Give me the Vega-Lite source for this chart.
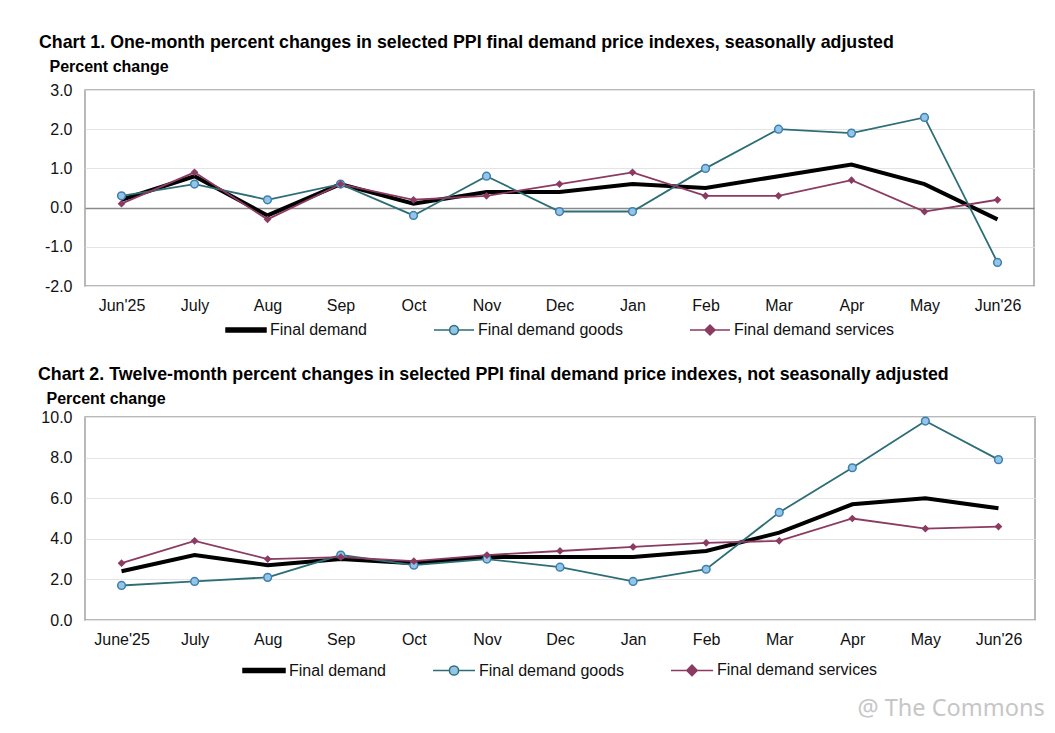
{
  "$schema": "https://vega.github.io/schema/vega-lite/v6.json",
  "background": "white",
  "padding": {"left": 37, "top": 33, "right": 8, "bottom": 10},
  "spacing": 26,
  "datasets": {
    "monthly": [
      {"month": "Jun'25", "series": "Final demand", "pct": 0.2},
      {"month": "July", "series": "Final demand", "pct": 0.8},
      {"month": "Aug", "series": "Final demand", "pct": -0.2},
      {"month": "Sep", "series": "Final demand", "pct": 0.6},
      {"month": "Oct", "series": "Final demand", "pct": 0.1},
      {"month": "Nov", "series": "Final demand", "pct": 0.4},
      {"month": "Dec", "series": "Final demand", "pct": 0.4},
      {"month": "Jan", "series": "Final demand", "pct": 0.6},
      {"month": "Feb", "series": "Final demand", "pct": 0.5},
      {"month": "Mar", "series": "Final demand", "pct": 0.8},
      {"month": "Apr", "series": "Final demand", "pct": 1.1},
      {"month": "May", "series": "Final demand", "pct": 0.6},
      {"month": "Jun'26", "series": "Final demand", "pct": -0.3},
      {"month": "Jun'25", "series": "Final demand goods", "pct": 0.3},
      {"month": "July", "series": "Final demand goods", "pct": 0.6},
      {"month": "Aug", "series": "Final demand goods", "pct": 0.2},
      {"month": "Sep", "series": "Final demand goods", "pct": 0.6},
      {"month": "Oct", "series": "Final demand goods", "pct": -0.2},
      {"month": "Nov", "series": "Final demand goods", "pct": 0.8},
      {"month": "Dec", "series": "Final demand goods", "pct": -0.1},
      {"month": "Jan", "series": "Final demand goods", "pct": -0.1},
      {"month": "Feb", "series": "Final demand goods", "pct": 1.0},
      {"month": "Mar", "series": "Final demand goods", "pct": 2.0},
      {"month": "Apr", "series": "Final demand goods", "pct": 1.9},
      {"month": "May", "series": "Final demand goods", "pct": 2.3},
      {"month": "Jun'26", "series": "Final demand goods", "pct": -1.4},
      {"month": "Jun'25", "series": "Final demand services", "pct": 0.1},
      {"month": "July", "series": "Final demand services", "pct": 0.9},
      {"month": "Aug", "series": "Final demand services", "pct": -0.3},
      {"month": "Sep", "series": "Final demand services", "pct": 0.6},
      {"month": "Oct", "series": "Final demand services", "pct": 0.2},
      {"month": "Nov", "series": "Final demand services", "pct": 0.3},
      {"month": "Dec", "series": "Final demand services", "pct": 0.6},
      {"month": "Jan", "series": "Final demand services", "pct": 0.9},
      {"month": "Feb", "series": "Final demand services", "pct": 0.3},
      {"month": "Mar", "series": "Final demand services", "pct": 0.3},
      {"month": "Apr", "series": "Final demand services", "pct": 0.7},
      {"month": "May", "series": "Final demand services", "pct": -0.1},
      {"month": "Jun'26", "series": "Final demand services", "pct": 0.2}
    ],
    "yearly": [
      {"month": "June'25", "series": "Final demand", "pct": 2.4},
      {"month": "July", "series": "Final demand", "pct": 3.2},
      {"month": "Aug", "series": "Final demand", "pct": 2.7},
      {"month": "Sep", "series": "Final demand", "pct": 3.0},
      {"month": "Oct", "series": "Final demand", "pct": 2.8},
      {"month": "Nov", "series": "Final demand", "pct": 3.1},
      {"month": "Dec", "series": "Final demand", "pct": 3.1},
      {"month": "Jan", "series": "Final demand", "pct": 3.1},
      {"month": "Feb", "series": "Final demand", "pct": 3.4},
      {"month": "Mar", "series": "Final demand", "pct": 4.3},
      {"month": "Apr", "series": "Final demand", "pct": 5.7},
      {"month": "May", "series": "Final demand", "pct": 6.0},
      {"month": "Jun'26", "series": "Final demand", "pct": 5.5},
      {"month": "June'25", "series": "Final demand goods", "pct": 1.7},
      {"month": "July", "series": "Final demand goods", "pct": 1.9},
      {"month": "Aug", "series": "Final demand goods", "pct": 2.1},
      {"month": "Sep", "series": "Final demand goods", "pct": 3.2},
      {"month": "Oct", "series": "Final demand goods", "pct": 2.7},
      {"month": "Nov", "series": "Final demand goods", "pct": 3.0},
      {"month": "Dec", "series": "Final demand goods", "pct": 2.6},
      {"month": "Jan", "series": "Final demand goods", "pct": 1.9},
      {"month": "Feb", "series": "Final demand goods", "pct": 2.5},
      {"month": "Mar", "series": "Final demand goods", "pct": 5.3},
      {"month": "Apr", "series": "Final demand goods", "pct": 7.5},
      {"month": "May", "series": "Final demand goods", "pct": 9.8},
      {"month": "Jun'26", "series": "Final demand goods", "pct": 7.9},
      {"month": "June'25", "series": "Final demand services", "pct": 2.8},
      {"month": "July", "series": "Final demand services", "pct": 3.9},
      {"month": "Aug", "series": "Final demand services", "pct": 3.0},
      {"month": "Sep", "series": "Final demand services", "pct": 3.1},
      {"month": "Oct", "series": "Final demand services", "pct": 2.9},
      {"month": "Nov", "series": "Final demand services", "pct": 3.2},
      {"month": "Dec", "series": "Final demand services", "pct": 3.4},
      {"month": "Jan", "series": "Final demand services", "pct": 3.6},
      {"month": "Feb", "series": "Final demand services", "pct": 3.8},
      {"month": "Mar", "series": "Final demand services", "pct": 3.9},
      {"month": "Apr", "series": "Final demand services", "pct": 5.0},
      {"month": "May", "series": "Final demand services", "pct": 4.5},
      {"month": "Jun'26", "series": "Final demand services", "pct": 4.6}
    ]
  },
  "title": {
    "text": "@ The Commons",
    "orient": "bottom",
    "anchor": "end",
    "font": "Noto Sans",
    "fontSize": 23.5,
    "fontWeight": "normal",
    "color": "#c6c6c6",
    "dx": 9,
    "offset": 17
  },
  "vconcat": [
    {
      "width": 949,
      "height": 196,
      "data": {"name": "monthly"},
      "title": {
        "text": "Chart 1. One-month percent changes in selected PPI final demand price indexes, seasonally adjusted",
        "frame": "group",
        "dx": -46,
        "offset": 6
      },
      "encoding": {
        "x": {
          "field": "month",
          "type": "ordinal",
          "scale": {"type": "point", "padding": 0.5, "domain": ["Jun'25", "July", "Aug", "Sep", "Oct", "Nov", "Dec", "Jan", "Feb", "Mar", "Apr", "May", "Jun'26"]}
        },
        "y": {
          "field": "pct",
          "type": "quantitative",
          "scale": {"domain": [-2, 3], "nice": false, "zero": false},
          "axis": {
            "values": [-2, -1, 0, 1, 2, 3],
            "labelExpr": "replace(format(datum.value, '.1f'), '\u2212', '-')",
            "title": "Percent change",
            "titleX": -36,
            "titleY": -19,
            "gridColor": {"condition": {"test": "datum.value === 0", "value": "#8a8a8a"}, "value": "#e4e4e4"},
            "gridWidth": {"condition": {"test": "datum.value === 0", "value": 1.5}, "value": 1}
          }
        }
      },
      "layer": [
        {
          "transform": [{"filter": "datum.series === 'Final demand'"}],
          "mark": {"type": "line", "color": "#000000", "strokeWidth": 4}
        },
        {
          "transform": [{"filter": "datum.series === 'Final demand goods'"}],
          "mark": {"type": "line", "color": "#2d6e76", "strokeWidth": 1.8}
        },
        {
          "transform": [{"filter": "datum.series === 'Final demand services'"}],
          "mark": {"type": "line", "color": "#8b3a62", "strokeWidth": 1.8}
        },
        {
          "transform": [{"filter": "datum.series === 'Final demand goods'"}],
          "mark": {"type": "point", "shape": "circle", "filled": true, "fill": "#93c5e9", "stroke": "#3f7fae", "strokeWidth": 1.5, "size": 60, "opacity": 1}
        },
        {
          "transform": [{"filter": "datum.series === 'Final demand services'"}],
          "mark": {"type": "point", "shape": "diamond", "filled": true, "fill": "#8b3a62", "size": 60, "opacity": 1}
        },
        {
          "transform": [{"filter": "false"}],
          "mark": {"type": "point", "filled": true, "opacity": 1, "strokeWidth": 1.5},
          "encoding": {
            "fill": {"field": "series", "type": "nominal", "scale": {"domain": ["Final demand", "Final demand goods", "Final demand services"], "range": ["#000000", "#93c5e9", "#8b3a62"]}, "legend": {"title": null, "columnPadding": 64, "symbolSize": 1600, "offset": -4}},
            "stroke": {"field": "series", "type": "nominal", "scale": {"domain": ["Final demand", "Final demand goods", "Final demand services"], "range": ["#000000", "#2d6e76", "#8b3a62"]}, "legend": {"title": null, "columnPadding": 64, "symbolSize": 1600, "offset": -4}},
            "shape": {"field": "series", "type": "nominal", "scale": {"domain": ["Final demand", "Final demand goods", "Final demand services"], "range": ["M-1,-0.1H1V0.1H-1Z", "M-1,0H-0.22M0.22,0H1M0.22,0A0.22,0.22 0 1,1 -0.22,0A0.22,0.22 0 1,1 0.22,0Z", "M-1,0H-0.25M0.25,0H1M0,-0.25L0.25,0L0,0.25L-0.25,0Z"]}, "legend": {"title": null, "columnPadding": 64, "symbolSize": 1600, "offset": -4}}
          }
        }
      ]
    },
    {
      "width": 950,
      "height": 203,
      "data": {"name": "yearly"},
      "title": {
        "text": "Chart 2. Twelve-month percent changes in selected PPI final demand price indexes, not seasonally adjusted",
        "frame": "group",
        "dx": -47,
        "offset": 6
      },
      "encoding": {
        "x": {
          "field": "month",
          "type": "ordinal",
          "scale": {"type": "point", "padding": 0.5, "domain": ["June'25", "July", "Aug", "Sep", "Oct", "Nov", "Dec", "Jan", "Feb", "Mar", "Apr", "May", "Jun'26"]}
        },
        "y": {
          "field": "pct",
          "type": "quantitative",
          "scale": {"domain": [0, 10], "nice": false},
          "axis": {
            "values": [0, 2, 4, 6, 8, 10],
            "format": ".1f",
            "title": "Percent change",
            "titleX": -39,
            "titleY": -14
          }
        }
      },
      "layer": [
        {
          "transform": [{"filter": "datum.series === 'Final demand'"}],
          "mark": {"type": "line", "color": "#000000", "strokeWidth": 4}
        },
        {
          "transform": [{"filter": "datum.series === 'Final demand goods'"}],
          "mark": {"type": "line", "color": "#2d6e76", "strokeWidth": 1.8}
        },
        {
          "transform": [{"filter": "datum.series === 'Final demand services'"}],
          "mark": {"type": "line", "color": "#8b3a62", "strokeWidth": 1.8}
        },
        {
          "transform": [{"filter": "datum.series === 'Final demand goods'"}],
          "mark": {"type": "point", "shape": "circle", "filled": true, "fill": "#93c5e9", "stroke": "#3f7fae", "strokeWidth": 1.5, "size": 60, "opacity": 1}
        },
        {
          "transform": [{"filter": "datum.series === 'Final demand services'"}],
          "mark": {"type": "point", "shape": "diamond", "filled": true, "fill": "#8b3a62", "size": 60, "opacity": 1}
        },
        {
          "transform": [{"filter": "false"}],
          "mark": {"type": "point", "filled": true, "opacity": 1, "strokeWidth": 1.5},
          "encoding": {
            "fill": {"field": "series", "type": "nominal", "scale": {"domain": ["Final demand", "Final demand goods", "Final demand services"], "range": ["#000000", "#93c5e9", "#8b3a62"]}, "legend": {"title": null, "columnPadding": 44, "symbolSize": 1764, "offset": 1}},
            "stroke": {"field": "series", "type": "nominal", "scale": {"domain": ["Final demand", "Final demand goods", "Final demand services"], "range": ["#000000", "#2d6e76", "#8b3a62"]}, "legend": {"title": null, "columnPadding": 44, "symbolSize": 1764, "offset": 1}},
            "shape": {"field": "series", "type": "nominal", "scale": {"domain": ["Final demand", "Final demand goods", "Final demand services"], "range": ["M-1,-0.1H1V0.1H-1Z", "M-1,0H-0.22M0.22,0H1M0.22,0A0.22,0.22 0 1,1 -0.22,0A0.22,0.22 0 1,1 0.22,0Z", "M-1,0H-0.25M0.25,0H1M0,-0.25L0.25,0L0,0.25L-0.25,0Z"]}, "legend": {"title": null, "columnPadding": 44, "symbolSize": 1764, "offset": 1}}
          }
        }
      ]
    }
  ],
  "resolve": {
    "scale": {"x": "independent", "y": "independent", "fill": "independent", "stroke": "independent", "shape": "independent"},
    "legend": {"fill": "independent", "stroke": "independent", "shape": "independent"}
  },
  "config": {
    "font": "Liberation Sans",
    "view": {"stroke": "#a3a3a3", "strokeWidth": 1.5},
    "axis": {
      "labelFont": "Liberation Sans",
      "labelFontSize": 16,
      "labelColor": "#111111",
      "domain": false,
      "ticks": false,
      "tickSize": 0,
      "titleFont": "Liberation Sans",
      "titleFontSize": 16,
      "titleFontWeight": "bold",
      "titleColor": "#000000"
    },
    "axisX": {"grid": false, "labelPadding": 11, "labelAngle": 0, "title": null},
    "axisY": {
      "grid": true,
      "gridColor": "#e4e4e4",
      "labelPadding": 13,
      "titleAngle": 0,
      "titleAlign": "left",
      "titleBaseline": "alphabetic"
    },
    "title": {
      "font": "Liberation Sans",
      "fontSize": 17.8,
      "fontWeight": "bold",
      "anchor": "start",
      "color": "#000000"
    },
    "legend": {
      "orient": "bottom",
      "direction": "horizontal",
      "labelFont": "Liberation Sans",
      "labelFontSize": 16,
      "labelColor": "#111111",
      "labelLimit": 400,
      "symbolStrokeWidth": 1.5,
      "labelOffset": 3,
      "layout": {"bottom": {"anchor": "middle"}}
    }
  }
}
